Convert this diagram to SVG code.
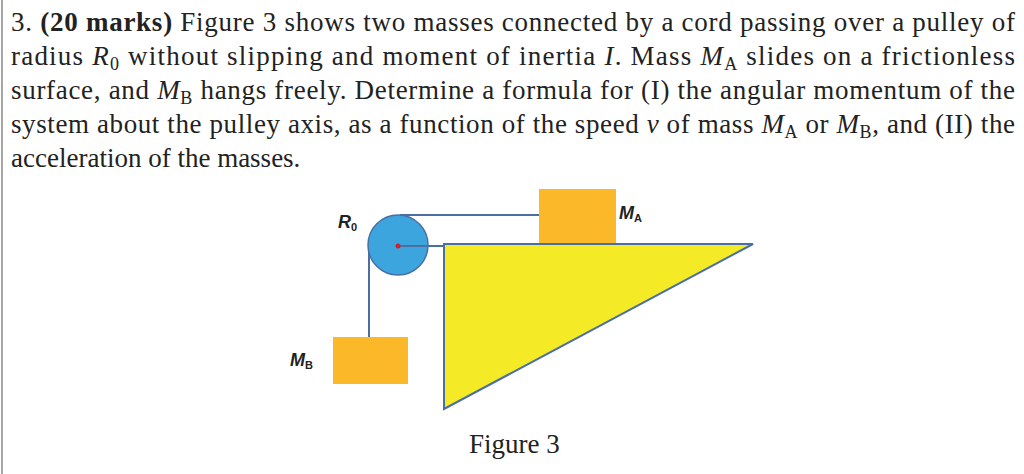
<svg xmlns="http://www.w3.org/2000/svg" width="1024" height="474" viewBox="0 0 1024 474">
<style>
.t{font-family:"Liberation Serif",serif;font-size:27px;fill:#222}
.l{font-family:"Liberation Sans",sans-serif;font-size:18px;font-weight:bold;font-style:italic;fill:#222}
.s{font-size:11px;font-style:normal}
.cord{stroke:#4a6fa5;stroke-width:2;fill:none}
.blk{fill:#fbb829}
</style>
<rect width="1024" height="474" fill="#fff"/>
<line x1="2" y1="0" x2="2" y2="474" stroke="#888" stroke-width="1.5"/>
<g id="text">
<text class="t" x="11" y="31" textLength="1004" lengthAdjust="spacing">3. <tspan font-weight="bold">(20 marks)</tspan> Figure 3 shows two masses connected by a cord passing over a pulley of</text>
<text class="t" x="11" y="65" textLength="1004" lengthAdjust="spacing">radius <tspan font-style="italic">R</tspan><tspan font-size="18" dy="5">0</tspan><tspan dy="-5"> without slipping and moment of inertia </tspan><tspan font-style="italic">I</tspan>. Mass <tspan font-style="italic">M</tspan><tspan font-size="18" dy="5">A</tspan><tspan dy="-5"> slides on a frictionless</tspan></text>
<text class="t" x="11" y="99" textLength="1004" lengthAdjust="spacing">surface, and <tspan font-style="italic">M</tspan><tspan font-size="18" dy="5">B</tspan><tspan dy="-5"> hangs freely. Determine a formula for (I) the angular momentum of the</tspan></text>
<text class="t" x="11" y="133" textLength="1004" lengthAdjust="spacing">system about the pulley axis, as a function of the speed <tspan font-style="italic">v</tspan> of mass <tspan font-style="italic">M</tspan><tspan font-size="18" dy="5">A</tspan><tspan dy="-5"> or </tspan><tspan font-style="italic">M</tspan><tspan font-size="18" dy="5">B</tspan><tspan dy="-5">, and (II) the</tspan></text>
<text class="t" x="11" y="167">acceleration of the masses.</text>
<text class="t" x="469" y="453">Figure 3</text>
</g>
<g id="connectors">
<line class="cord" x1="400" y1="215" x2="540" y2="215"/>
<line class="cord" x1="369" y1="246" x2="369" y2="337"/>
<line class="cord" x1="399" y1="246" x2="444" y2="246"/>
</g>
<g id="incline"><polygon points="444,244 753,244 444,409" fill="#f5ea26" stroke="#4a6fa5" stroke-width="2"/></g>
<g id="pulley">
<circle cx="398" cy="245" r="30" fill="#3da5de" stroke="#4a6fa5" stroke-width="1.5"/>
<line class="cord" x1="399" y1="246" x2="428" y2="246"/>
<circle cx="398" cy="246" r="2.5" fill="#d0202a"/>
<text class="l" x="338" y="228">R<tspan class="s" dy="3">0</tspan></text>
</g>
<g id="MA">
<rect class="blk" x="539" y="189" width="77" height="54"/>
<text class="l" x="619" y="219">M<tspan class="s" dy="3">A</tspan></text>
</g>
<g id="MB">
<rect class="blk" x="333" y="337" width="75" height="47"/>
<text class="l" x="290" y="366">M<tspan class="s" dy="3">B</tspan></text>
</g>
</svg>
